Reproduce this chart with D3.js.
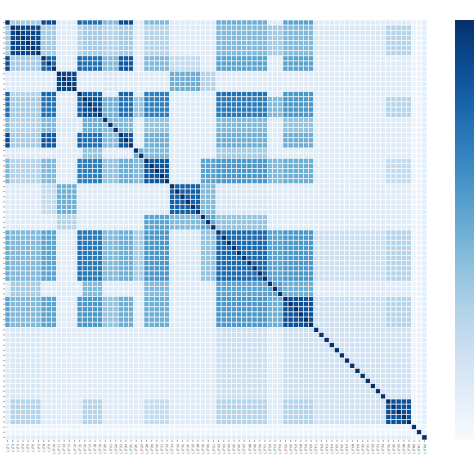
<!DOCTYPE html>
<html>
<head>
<meta charset="UTF-8">
<style>
  body { margin: 0; background: #fff; }
  text { font-family: "DejaVu Sans", sans-serif; }
</style>
</head>
<body>
<div id="chart"></div>
<script src="https://cdnjs.cloudflare.com/ajax/libs/d3/7.8.5/d3.min.js"></script>
<script>
// variable groups along the diagonal
const groupNames = ["G0","A","H1","B","C0","C","C2","H2","S1","D","E","S2","F1","F2","F3","S3","G","W","Z"];
const groupSizes = [1, 6, 3, 4, 1, 4, 3, 3, 2, 5, 6, 3, 10, 3, 6, 14, 5, 2, 1];
const withinLevel = [1, 0.92, 0.8, 0.92, 1, 0.88, 0.45, 0.85, 0.5, 0.85, 0.82, 0.55, 0.78, 0.55, 0.88, 0.2, 0.88, 0.05, 1];
// between-group correlation levels
const pairLevels = [
  ["G0","A",0.35],["G0","H1",0.9],["G0","H2",0.9],["G0","C",0.75],["G0","C0",0.8],["G0","D",0.45],["G0","F1",0.5],["G0","F3",0.55],["G0","C2",0.45],
  ["H1","A",0.35],["H1","H2",0.85],["H1","C",0.75],["H1","C0",0.8],["H1","D",0.45],["H1","F1",0.55],["H1","F3",0.55],["H1","C2",0.45],["H1","E",0.25],
  ["H2","A",0.35],["H2","C",0.75],["H2","C0",0.8],["H2","D",0.5],["H2","F1",0.5],["H2","F3",0.5],["H2","C2",0.45],
  ["A","C",0.35],["A","C0",0.3],["A","C2",0.3],["A","D",0.3],["A","F1",0.45],["A","F2",0.35],["A","F3",0.45],["A","G",0.3],["A","S3",0.15],
  ["B","E",0.5],["B","S2",0.3],["B","C2",0.15],
  ["C0","C",0.8],["C0","D",0.7],["C0","F1",0.75],["C0","F3",0.6],
  ["C","C2",0.5],["C","D",0.7],["C","F1",0.72],["C","F2",0.45],["C","F3",0.6],["C","S1",0.4],["C","G",0.3],
  ["C2","D",0.4],["C2","F1",0.45],["C2","F3",0.4],
  ["S1","D",0.45],["S1","F1",0.35],
  ["D","F1",0.6],["D","F2",0.45],["D","F3",0.5],["D","S2",0.55],["D","G",0.25],
  ["E","S2",0.45],["E","F1",0.15],
  ["S2","F1",0.4],
  ["F1","F2",0.55],["F1","F3",0.6],["F1","G",0.3],["F1","S3",0.22],
  ["F2","F3",0.5],["F3","G",0.3],["F3","S3",0.22],["S3","G",0.2]
];
const defaultLevel = 0.12;

const n = d3.sum(groupSizes);
const varLabels = d3.range(n).map(i => "L1T" + (i + 1));
const groupOf = [];
groupSizes.forEach((s, g) => { for (let k = 0; k < s; k++) groupOf.push(g); });

const levelMap = new Map();
pairLevels.forEach(([a, b, v]) => {
  levelMap.set(a + "|" + b, v);
  levelMap.set(b + "|" + a, v);
});
function level(ga, gb) {
  if (groupNames[ga] === "W" || groupNames[gb] === "W") return 0.05;
  if (groupNames[ga] === "Z" || groupNames[gb] === "Z") return 0.1;
  if (ga === gb) return withinLevel[ga];
  return levelMap.get(groupNames[ga] + "|" + groupNames[gb]) ?? defaultLevel;
}

const cells = [];
for (let r = 0; r < n; r++) {
  for (let c = 0; c < n; c++) {
    const v = r === c ? 1 : level(groupOf[r], groupOf[c]);
    cells.push({ r, c, v });
  }
}

const W = 474, H = 474;
const margin = { left: 5, top: 20, right: 47, bottom: 34 };
const svg = d3.select("#chart").append("svg").attr("width", W).attr("height", H);

const x = d3.scaleBand().domain(varLabels).range([margin.left, W - margin.right]);
const y = d3.scaleBand().domain(varLabels).range([margin.top, H - margin.bottom]);
const color = d3.scaleSequential(d3.interpolateBlues).domain([0, 1]);

svg.append("g").selectAll("rect").data(cells).enter().append("rect")
  .attr("x", d => x(varLabels[d.c]))
  .attr("y", d => y(varLabels[d.r]))
  .attr("width", x.bandwidth())
  .attr("height", y.bandwidth())
  .attr("fill", d => color(d.v))
  .attr("stroke", "#fff")
  .attr("stroke-width", 0.6);

// axis labels
const xAxis = svg.append("g").attr("transform", `translate(0,${H - margin.bottom})`)
  .call(d3.axisBottom(x).tickSize(2));
xAxis.select(".domain").remove();
xAxis.selectAll("line").attr("stroke", "#555").attr("stroke-width", 0.5);
xAxis.selectAll("text").attr("font-size", 3.2).attr("fill", "#444")
  .attr("transform", "rotate(-90)").attr("text-anchor", "end")
  .attr("x", -4).attr("y", 0).attr("dy", "0.35em");

const yAxis = svg.append("g").attr("transform", `translate(${margin.left},0)`)
  .call(d3.axisLeft(y).tickSize(2).tickFormat(""));
yAxis.select(".domain").remove();
yAxis.selectAll("line").attr("stroke", "#555").attr("stroke-width", 0.5);

// colour bar
const cb = { x: 455, y: 20, w: 19, h: 420 };
const defs = svg.append("defs");
const grad = defs.append("linearGradient").attr("id", "cbar")
  .attr("x1", 0).attr("y1", 1).attr("x2", 0).attr("y2", 0);
d3.range(0, 1.01, 0.1).forEach(t => {
  grad.append("stop").attr("offset", t).attr("stop-color", color(t));
});
svg.append("rect").attr("x", cb.x).attr("y", cb.y).attr("width", cb.w).attr("height", cb.h)
  .attr("fill", "url(#cbar)");
</script>
</body>
</html>
